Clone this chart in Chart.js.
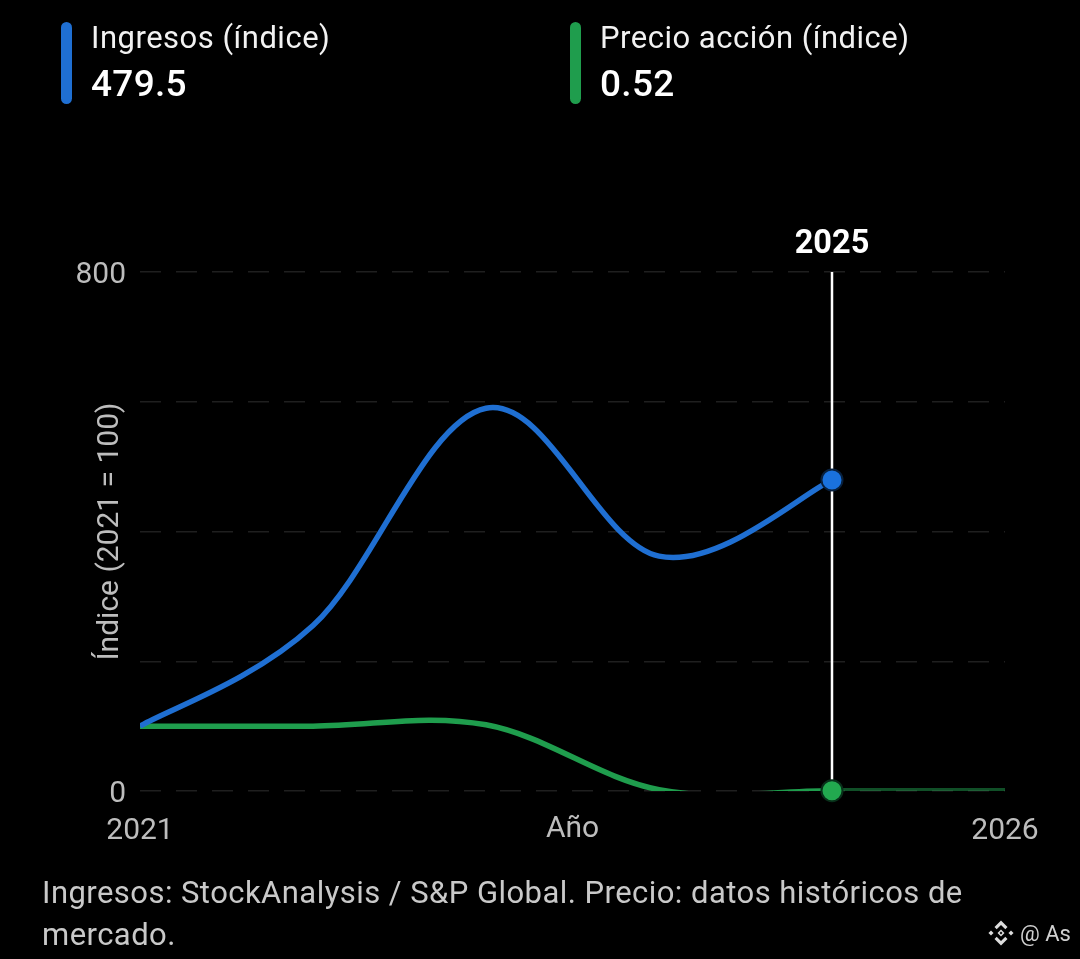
<!DOCTYPE html>
<html lang="es"><head><meta charset="utf-8">
<script src="https://cdn.jsdelivr.net/npm/chart.js@4"></script>
<style>
html,body{margin:0;padding:0;background:#000;width:1080px;height:959px;overflow:hidden;font-family:Roboto,sans-serif}
#wrap{position:relative;width:1080px;height:959px}
canvas{position:absolute;left:0;top:0}
.bar{position:absolute;top:22px;width:11px;height:82px;border-radius:6px}
.t{position:absolute;white-space:nowrap}
.name{top:20px;font-size:31px;line-height:36px;letter-spacing:.5px;color:#f2f2f2}
.val{top:62px;font-size:37px;line-height:44px;font-weight:500;letter-spacing:.3px;color:#fff}
#note{position:absolute;left:42px;top:872px;width:935px;font-size:31px;line-height:42px;letter-spacing:.45px;color:#c9c9c9}
#mark{position:absolute;left:987px;top:919px;height:28px;display:flex;align-items:center;color:#d0d0d0;font-size:22px;gap:5px}
</style></head><body>
<div id="wrap">
<canvas id="c" width="1080" height="959"></canvas>
<div class="bar" style="left:61px;background:#1f6fd2"></div>
<div class="t name" style="left:91px">Ingresos (índice)</div>
<div class="t val" style="left:91px">479.5</div>
<div class="bar" style="left:570px;background:#1f9d4d"></div>
<div class="t name" style="left:600px">Precio acción (índice)</div>
<div class="t val" style="left:600px">0.52</div>
<div id="note">Ingresos: StockAnalysis / S&amp;P Global. Precio: datos históricos de mercado.</div>
<div id="mark"><svg width="28" height="28" viewBox="0 0 28 28"><g fill="#dcdcdc"><path d="M14 1.5l6.5 6.5-2.2 2.2L14 6l-4.3 4.2L7.500 8z"/><path d="M14 26.500l6.500-6.500-2.200-2.200L14 22l-4.300-4.200L7.500 20z"/><path d="M14 10.500l3.500 3.500-3.500 3.500-3.500-3.500zM14 12.600l-1.400 1.400 1.400 1.400 1.400-1.400z" fill-rule="evenodd"/><rect x="2.200" y="12.200" width="3.600" height="3.600" transform="rotate(45 4 14)"/><rect x="22.200" y="12.200" width="3.600" height="3.600" transform="rotate(45 24 14)"/></g></svg><span>@ As</span></div>
</div>
<script>
const years=[2021,2022,2023,2024,2025,2026];
const ingresos=[100,255,590,362,479.5];
const precio=[100,100,102,2,0.52,0.52];
const markerYear=2025;
const yMax=800, yStep=200;
const xLabels=[2021,2026];
const yLabels=[0,800];
const BLUE='#1f6fd2',GREEN='#1f9d4d';
const smooth=0.35;
const pts=a=>a.map((v,i)=>({x:years[i],y:v}));
const curve={id:'curve',beforeDatasetDraw(ch,{meta}){
  if(!meta.dataset||meta.data.length<3)return;
  const p=meta.data,n=p.length;
  p.forEach((c,i)=>{
    const a=p[Math.max(i-1,0)],b=p[Math.min(i+1,n-1)];
    const tx=(b.x-a.x)/2*smooth,ty=(b.y-a.y)/2*smooth;
    c.cp1x=c.x-tx;c.cp1y=c.y-ty;c.cp2x=c.x+tx;c.cp2y=c.y+ty;
  });
  meta.dataset._pointsUpdated=true;
}};
const marker={id:'marker',beforeDatasetsDraw(ch){
  const {ctx,scales:{x,y}}=ch;const px=x.getPixelForValue(markerYear);
  ctx.save();ctx.strokeStyle='#fff';ctx.lineWidth=2.5;ctx.beginPath();ctx.moveTo(px,y.top);ctx.lineTo(px,y.bottom);ctx.stroke();
  ctx.fillStyle='#fff';ctx.font='700 32.5px Roboto';ctx.textAlign='center';ctx.textBaseline='alphabetic';ctx.fillText(String(markerYear),px,253);ctx.restore();
}};
const at=a=>[{x:markerYear,y:a[years.indexOf(markerYear)]}];
const dot=(data,fill,edge)=>({data,showLine:false,clip:false,pointRadius:10.5,pointBackgroundColor:fill,pointBorderColor:edge,pointBorderWidth:2});
new Chart(document.getElementById('c'),{type:'line',
 data:{datasets:[
  dot(at(ingresos),'#1a72de','#08213f'),
  dot(at(precio),'#22a94f','#08301a'),
  {label:'Ingresos (índice)',data:pts(ingresos),borderColor:BLUE,borderWidth:5.5,tension:smooth,pointRadius:0},
  {label:'Precio acción (índice)',data:pts(precio),borderColor:GREEN,borderWidth:5.5,tension:smooth,pointRadius:0,clip:0,
   segment:{borderColor:c=>c.p0.parsed.x>=markerYear?'rgba(31,157,77,0.5)':undefined}}
 ]},
 options:{responsive:false,animation:false,events:[],
  layout:{padding:{left:0,right:75,top:272,bottom:118}},
  plugins:{legend:{display:false},tooltip:{enabled:false}},
  scales:{
   x:{type:'linear',min:years[0],max:years[years.length-1],
     afterFit(s){s.height=50},
     grid:{display:false},border:{display:false},
     ticks:{stepSize:1,autoSkip:false,maxRotation:0,padding:14,color:'#bdbdbd',font:{family:'Roboto',size:30},callback:v=>xLabels.includes(v)?String(v):''},
     title:{display:true,text:'Año',color:'#bdbdbd',font:{family:'Roboto',size:30},padding:{top:0,bottom:-6}}},
   y:{min:0,max:yMax,
     afterFit(s){s.width=140},
     grid:{color:'#1f1f1f',lineWidth:1.5,drawTicks:false},border:{display:false,dash:[21,15]},
     ticks:{stepSize:yStep,padding:14,labelOffset:3,color:'#bdbdbd',font:{family:'Roboto',size:30},callback:v=>yLabels.includes(v)?String(v):''},
     title:{display:true,text:'Índice (2021 = 100)',color:'#bdbdbd',font:{family:'Roboto',size:30},padding:{top:92,bottom:0}}}
  }},
 plugins:[curve,marker]});
</script></body></html>
